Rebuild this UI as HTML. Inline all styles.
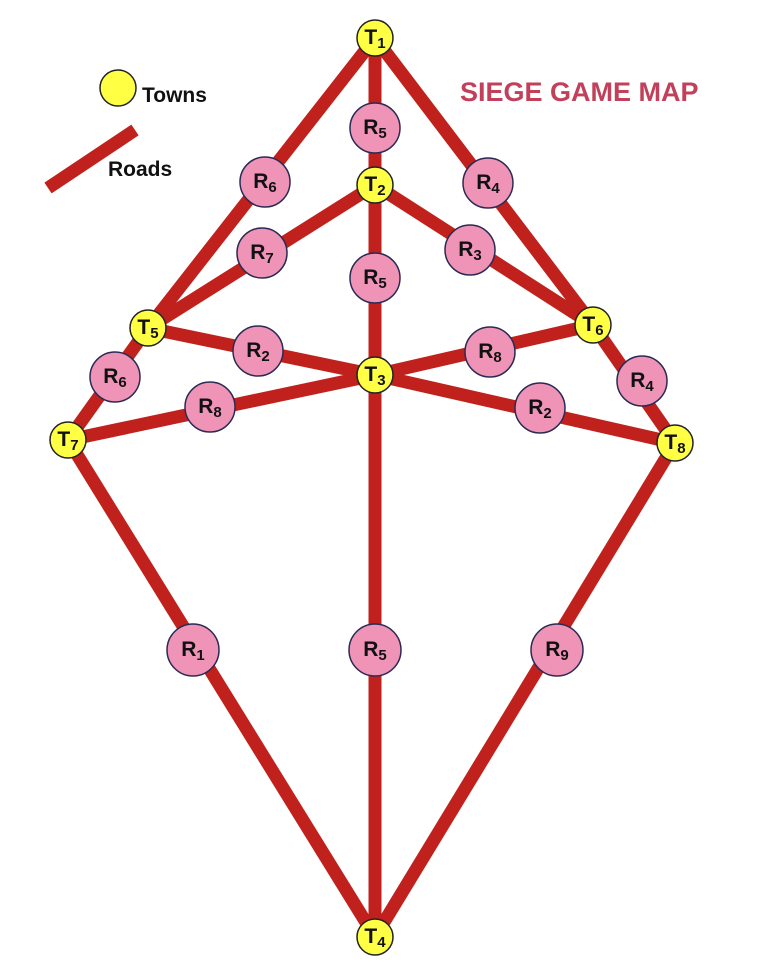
<!DOCTYPE html>
<html><head><meta charset="utf-8"><style>
html,body{margin:0;padding:0;background:#fff;}
svg{display:block;}
text{font-family:"Liberation Sans",sans-serif;font-weight:bold;}
</style></head><body>
<svg width="768" height="965" viewBox="0 0 768 965" xmlns="http://www.w3.org/2000/svg">
<g stroke="#c0211c" stroke-width="13" stroke-linecap="butt">
<line x1="375" y1="38" x2="375" y2="937"/>
<line x1="375" y1="38" x2="148" y2="328"/>
<line x1="375" y1="38" x2="593" y2="325"/>
<line x1="375" y1="185" x2="148" y2="328"/>
<line x1="375" y1="185" x2="593" y2="325"/>
<line x1="148" y1="328" x2="68" y2="440"/>
<line x1="593" y1="325" x2="675" y2="443"/>
<line x1="148" y1="328" x2="375" y2="375"/>
<line x1="593" y1="325" x2="375" y2="375"/>
<line x1="68" y1="440" x2="375" y2="375"/>
<line x1="675" y1="443" x2="375" y2="375"/>
<line x1="68" y1="440" x2="375" y2="937"/>
<line x1="675" y1="443" x2="375" y2="937"/>
<line x1="48" y1="188" x2="135" y2="130"/>
</g>
<g fill="#ef94b6" stroke="#2a2a55" stroke-width="1.5">
<circle cx="375" cy="128" r="25"/><circle cx="265" cy="182" r="25"/><circle cx="488" cy="183" r="25"/>
<circle cx="262" cy="253" r="25"/><circle cx="375" cy="278" r="25"/><circle cx="470" cy="250" r="25"/>
<circle cx="258" cy="351" r="25"/><circle cx="490" cy="352" r="25"/><circle cx="115" cy="377" r="25"/>
<circle cx="210" cy="407" r="25"/><circle cx="642" cy="381" r="25"/><circle cx="540" cy="408" r="25"/>
<circle cx="193" cy="650" r="26"/><circle cx="375" cy="650" r="26"/><circle cx="557" cy="650" r="26"/>
</g>
<g fill="#ffff44" stroke="#222" stroke-width="1.5">
<circle cx="375" cy="38" r="18"/><circle cx="375" cy="185" r="18"/><circle cx="375" cy="375" r="18"/>
<circle cx="375" cy="937" r="18"/><circle cx="148" cy="328" r="18"/><circle cx="593" cy="325" r="18"/>
<circle cx="68" cy="440" r="18"/><circle cx="675" cy="443" r="18"/><circle cx="118" cy="88" r="18"/>
</g>
<g font-size="21" fill="#111" text-anchor="middle">
<text x="375" y="44">T<tspan font-size="15" dy="4">1</tspan></text>
<text x="375" y="191">T<tspan font-size="15" dy="4">2</tspan></text>
<text x="375" y="381">T<tspan font-size="15" dy="4">3</tspan></text>
<text x="375" y="943">T<tspan font-size="15" dy="4">4</tspan></text>
<text x="148" y="334">T<tspan font-size="15" dy="4">5</tspan></text>
<text x="593" y="331">T<tspan font-size="15" dy="4">6</tspan></text>
<text x="68" y="446">T<tspan font-size="15" dy="4">7</tspan></text>
<text x="675" y="449">T<tspan font-size="15" dy="4">8</tspan></text>
<text x="375" y="134">R<tspan font-size="15" dy="4">5</tspan></text>
<text x="265" y="188">R<tspan font-size="15" dy="4">6</tspan></text>
<text x="488" y="189">R<tspan font-size="15" dy="4">4</tspan></text>
<text x="262" y="259">R<tspan font-size="15" dy="4">7</tspan></text>
<text x="375" y="284">R<tspan font-size="15" dy="4">5</tspan></text>
<text x="470" y="256">R<tspan font-size="15" dy="4">3</tspan></text>
<text x="258" y="357">R<tspan font-size="15" dy="4">2</tspan></text>
<text x="490" y="358">R<tspan font-size="15" dy="4">8</tspan></text>
<text x="115" y="383">R<tspan font-size="15" dy="4">6</tspan></text>
<text x="210" y="413">R<tspan font-size="15" dy="4">8</tspan></text>
<text x="642" y="387">R<tspan font-size="15" dy="4">4</tspan></text>
<text x="540" y="414">R<tspan font-size="15" dy="4">2</tspan></text>
<text x="193" y="656">R<tspan font-size="15" dy="4">1</tspan></text>
<text x="375" y="656">R<tspan font-size="15" dy="4">5</tspan></text>
<text x="557" y="656">R<tspan font-size="15" dy="4">9</tspan></text>
</g>
<text x="142" y="102" font-size="21" fill="#111">Towns</text>
<text x="108" y="176" font-size="21" fill="#111">Roads</text>
<text x="460" y="101" font-size="27" fill="#c3405a">SIEGE GAME MAP</text>
</svg>
</body></html>
